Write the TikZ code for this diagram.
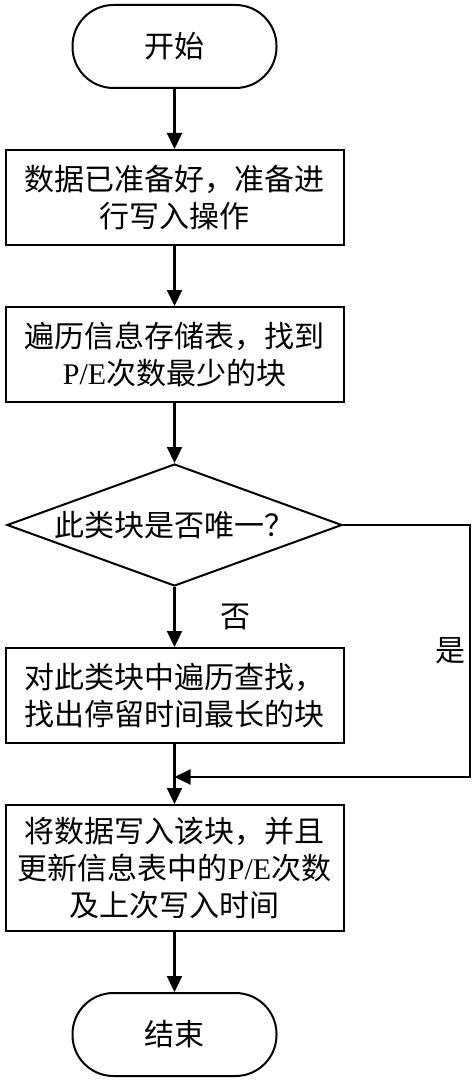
\documentclass[tikz,border=0pt]{standalone}
\usepackage{fontspec}
\setmainfont{Liberation Serif}
\newfontfamily\cjk{Noto Sans CJK SC}
\usetikzlibrary{positioning, shapes.geometric, arrows.meta}
\newcommand{\PEtext}{{\rmfamily P/E}}

\begin{document}
\begin{tikzpicture}[x=1pt, y=1pt, node distance=60pt, line width=2pt,
		every node/.style={font=\cjk\fontsize{30pt}{37pt}\selectfont},
		flow/.style={line width=2.2pt, -{Triangle[width=15pt, length=16pt]}},
		terminal/.style={rectangle, rounded corners=41pt, draw=black, minimum width=204pt, minimum height=83pt},
		process/.style={rectangle, draw=black, align=center, minimum width=338pt, minimum height=95pt, inner sep=0pt},
		decision/.style={diamond, aspect=2.75, draw=black, minimum width=335pt, minimum height=122pt, inner sep=0pt}]
		
		\useasboundingbox (0,0) rectangle (474,-1083);
		
		\node[terminal] (start) at (174.5,-46.5) {开始};
		\node[process] (ready) [below=of start] {数据已准备好，准备进\\行写入操作};
		\node[process] (search) [below=of ready] {遍历信息存储表，找到\\\PEtext 次数最少的块};
		\node[decision] (check) [below=of search] {此类块是否唯一？};
		\node[process] (scan) [below=of check] {对此类块中遍历查找，\\找出停留时间最长的块};
		\node[process] (update) [below=of scan, minimum height=126pt] {将数据写入该块，并且\\更新信息表中的\PEtext 次数\\及上次写入时间};
		\node[terminal] (stop) [below=of update] {结束};
		
		\coordinate[below=33pt of scan] (merge);
		\coordinate (rightedge) at (470,0);
		
		\draw[flow] (start) -- (ready);
		\draw[flow] (ready) -- (search);
		\draw[flow] (search) -- (check);
		\draw[flow] (check) -- node[right=42pt] {否} (scan);
		\draw[flow] (scan) -- (update);
		\draw[flow] (check.east) -| node[pos=0.75, left] {是} (rightedge |- merge) -- (merge);
		\draw[flow] (update) -- (stop);
		
	\end{tikzpicture}
\end{document}
